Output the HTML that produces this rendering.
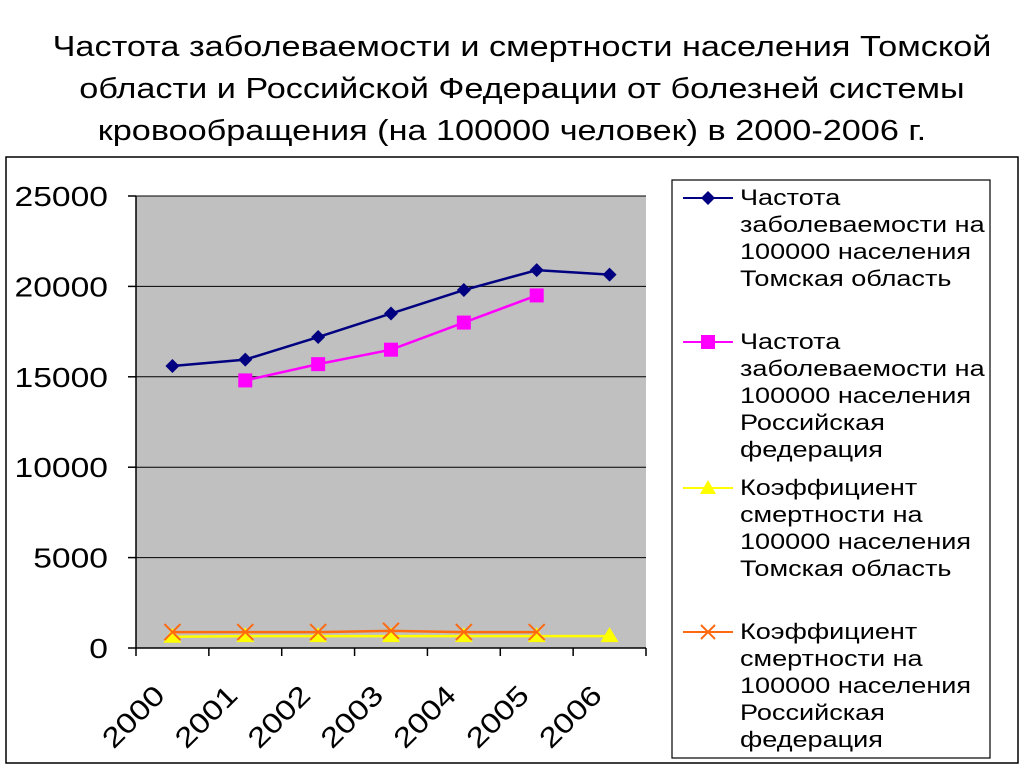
<!DOCTYPE html>
<html><head><meta charset="utf-8"><style>
body{margin:0;background:#fff;width:1024px;height:768px;overflow:hidden;font-family:"Liberation Sans",sans-serif}
</style></head><body>
<svg width="1024" height="768" font-family="Liberation Sans, sans-serif">
<g font-size="29" text-anchor="middle" fill="#000">
<text x="522" y="56" data-sx="1.18">Частота заболеваемости и смертности населения Томской</text>
<text x="522" y="98" data-sx="1.18">области и Российской Федерации от болезней системы</text>
<text x="512" y="140" data-sx="1.18">кровообращения (на 100000 человек) в 2000-2006 г.</text>
</g>
<rect x="6" y="157" width="1012" height="606" fill="none" stroke="#000" stroke-width="1.5"/>
<rect x="136" y="196" width="510" height="452" fill="#c0c0c0"/>
<g id="grid"></g><g id="axes"></g><g id="series"></g>
<g>
<rect x="672" y="180" width="318" height="578" fill="#fff" stroke="#000" stroke-width="1.2"/>
<g font-size="22" fill="#000">
<line x1="683" y1="198" x2="733" y2="198" stroke="#000080" stroke-width="2"/><polygon points="708,191 715,198 708,205 701,198" fill="#000080"/>
<text x="740" y="205" data-sx="1.23">Частота</text><text x="740" y="232" data-sx="1.23">заболеваемости на</text><text x="740" y="259" data-sx="1.23">100000 населения</text><text x="740" y="286" data-sx="1.23">Томская область</text>
<line x1="683" y1="342" x2="733" y2="342" stroke="#ff00ff" stroke-width="2"/><rect x="701" y="335" width="14" height="14" fill="#ff00ff"/>
<text x="740" y="349" data-sx="1.23">Частота</text><text x="740" y="376" data-sx="1.23">заболеваемости на</text><text x="740" y="403" data-sx="1.23">100000 населения</text><text x="740" y="430" data-sx="1.23">Российская</text><text x="740" y="457" data-sx="1.23">федерация</text>
<line x1="683" y1="488" x2="733" y2="488" stroke="#ffff00" stroke-width="2"/><polygon points="708,480 716,494 700,494" fill="#ffff00"/>
<text x="740" y="495" data-sx="1.23">Коэффициент</text><text x="740" y="522" data-sx="1.23">смертности на</text><text x="740" y="549" data-sx="1.23">100000 населения</text><text x="740" y="576" data-sx="1.23">Томская область</text>
<line x1="683" y1="632" x2="733" y2="632" stroke="#ff6a10" stroke-width="2"/><path d="M701,625 L715,639 M715,625 L701,639" stroke="#ff6a10" stroke-width="2"/>
<text x="740" y="639" data-sx="1.23">Коэффициент</text><text x="740" y="666" data-sx="1.23">смертности на</text><text x="740" y="693" data-sx="1.23">100000 населения</text><text x="740" y="720" data-sx="1.23">Российская</text><text x="740" y="747" data-sx="1.23">федерация</text>
</g></g>
</svg>
<script>
const categories=["2000","2001","2002","2003","2004","2005","2006"];
const tomskMorb=[15600,15950,17200,18500,19800,20900,20650];
const rfMorb=[null,14800,15700,16500,18000,19500,null];
const tomskMort=[620,660,660,660,660,660,660];
const rfMort=[880,880,880,950,880,880,null];
const yTicks=[0,5000,10000,15000,20000,25000];
const NS="http://www.w3.org/2000/svg";
const X0=136,X1=646,Y0=648,Y1=196,YMAX=25000;
const band=(X1-X0)/categories.length;
const xs=i=>X0+band*(i+0.5);
const ys=v=>Y0-(v/YMAX)*(Y0-Y1);
function mk(t,a,p){const e=document.createElementNS(NS,t);for(const k in a)e.setAttribute(k,a[k]);p.appendChild(e);return e;}
const grid=document.getElementById('grid'),axes=document.getElementById('axes'),ser=document.getElementById('series');
yTicks.forEach(v=>{
 if(v>0){const g=mk('line',{x1:X0,x2:X1,y1:ys(v),y2:ys(v),stroke:'#000','stroke-width':1},grid);
 
 }
 mk('line',{x1:X0-8,x2:X0,y1:ys(v),y2:ys(v),stroke:'#000','stroke-width':1.5},axes);
 const t=mk('text',{x:108,y:ys(v)+10,'text-anchor':'end','font-size':28,'data-sx':1.2},axes);t.textContent=v;
 
 
});
mk('line',{x1:X0,x2:X0,y1:Y1,y2:Y0,stroke:'#000','stroke-width':1.5},axes);
mk('line',{x1:X0,x2:X1,y1:Y0,y2:Y0,stroke:'#000','stroke-width':1.5},axes);
for(let i=0;i<=categories.length;i++)mk('line',{x1:X0+band*i,x2:X0+band*i,y1:Y0,y2:Y0+8,stroke:'#000','stroke-width':1.5},axes);
categories.forEach((c,i)=>{const x=xs(i)-6,y=Y0+49;
 const t=mk('text',{x:x,y:y,'text-anchor':'end','font-size':28,'data-sx':1.2,transform:`rotate(-45 ${x} ${y})`},axes);t.textContent=c;
 
 });
function series(arr,color,marker,name){
 const g=mk('g',{},ser);
 
 
 let d='';arr.forEach((v,i)=>{if(v==null)return;d+=(d?'L':'M')+xs(i)+','+ys(v);});
 mk('path',{d:d,fill:'none',stroke:color,'stroke-width':2.5},g);
 arr.forEach((v,i)=>{if(v==null)return;const x=xs(i),y=ys(v);let m;
  if(marker==='d')m=mk('polygon',{points:`${x},${y-7} ${x+7},${y} ${x},${y+7} ${x-7},${y}`,fill:color},g);
  else if(marker==='s')m=mk('rect',{x:x-7,y:y-7,width:14,height:14,fill:color},g);
  else if(marker==='t')m=mk('polygon',{points:`${x},${y-9} ${x+9},${y+6} ${x-9},${y+6}`,fill:color},g);
  else m=mk('path',{d:`M${x-8},${y-8}L${x+8},${y+8}M${x+8},${y-8}L${x-8},${y+8}`,stroke:color,'stroke-width':2},g);
  
  });
}
series(tomskMort,'#ffff00','t','series-tomsk-mortality');
series(rfMort,'#ff6a10','x','series-rf-mortality');
series(tomskMorb,'#000080','d','series-tomsk-morbidity');
series(rfMorb,'#ff00ff','s','series-rf-morbidity');
document.querySelectorAll('text[data-sx]').forEach(t=>{
 const w=t.getComputedTextLength()*parseFloat(t.getAttribute('data-sx'));
 t.setAttribute('textLength',w);
 t.setAttribute('lengthAdjust','spacingAndGlyphs');
});
</script>
</body></html>
